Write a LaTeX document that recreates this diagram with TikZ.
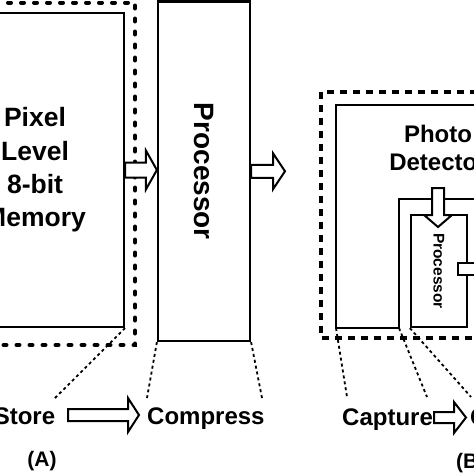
\documentclass[tikz,border=0pt]{standalone}
\usepackage{fontspec}
\setmainfont{Liberation Sans}
\usepackage{graphicx}
\usetikzlibrary{calc}
% horizontal hollow block arrow: tail, tip, shaft half, head half, head length
\newcommand{\harr}[5]{%
  \draw[blockarrow] let \p1=#1, \p2=#2 in
    (\x1,\y1+#3) -- (\x2-#5,\y1+#3) -- (\x2-#5,\y1+#4) -- (\x2,\y1) --
    (\x2-#5,\y1-#4) -- (\x2-#5,\y1-#3) -- (\x1,\y1-#3) -- cycle;}
% downward hollow block arrow
\newcommand{\varr}[5]{%
  \draw[blockarrow] let \p1=#1, \p2=#2 in
    (\x1-#3,\y1) -- (\x1-#3,\y2+#5) -- (\x1-#4,\y2+#5) -- (\x1,\y2) --
    (\x1+#4,\y2+#5) -- (\x1+#3,\y2+#5) -- (\x1+#3,\y1) -- cycle;}
\begin{document}
\begin{tikzpicture}[x=1pt,y=-1pt,
  solidbox/.style={draw, line width=2.2pt, inner sep=0pt},
  solidline/.style={draw, line width=2.2pt},
  dashA/.style={draw, line width=4pt, dash pattern=on 3pt off 10pt, line cap=round},
  dashB/.style={draw, line width=3.6pt, dash pattern=on 7pt off 6pt},
  proj/.style={draw, line width=1.8pt, dash pattern=on 3pt off 3pt},
  blockarrow/.style={draw, fill=white, line width=2pt, line join=miter},
  lbl/.style={font=\fontsize{24}{28}\selectfont\bfseries, inner sep=0pt},
  lblab/.style={font=\fontsize{21}{25}\selectfont\bfseries, inner sep=0pt}]
\useasboundingbox (0,0) rectangle (474,474);
\clip (0,0) rectangle (474,474);
\fill[white] (0,0) rectangle (474,474);

% ---------- (A) ----------
\draw[dashA] (-70,2.5) rectangle (135,345);
\node[solidbox, minimum width=178, minimum height=314, align=center,
      font=\fontsize{26.5}{33.3}\selectfont\bfseries] (mem) at (35,170)
      {Pixel\\Level\\8-bit\\Memory};
\node[solidbox, minimum width=92, minimum height=339.5] (procA) at (204,171.25)
      {\rotatebox{-90}{\fontsize{28}{32}\selectfont\bfseries Processor}};

\coordinate (aout) at (285,171.25);
\harr{(mem.east)}{(procA.west)}{7.5pt}{19.5pt}{11pt}
\harr{(procA.east)}{(aout)}{6.5pt}{18pt}{12pt}

\node[lbl, anchor=base] (store) at (24.5,424) {Store};
\node[lbl, anchor=base west] (compress) at (147,424) {Compress};
\coordinate (s1) at (55,398);
\coordinate (c1) at (147,398);
\coordinate (c2) at (262,398);
\draw[proj] (mem.south east) -- (s1);
\draw[proj] (procA.south west) -- (c1);
\draw[proj] (procA.south east) -- (c2);
\coordinate (st1) at (68,415);
\coordinate (st2) at (139,415);
\harr{(st1)}{(st2)}{6pt}{17pt}{11pt}
\node[lblab, anchor=base] (labA) at (42,466) {(A)};

% ---------- (B) ----------
\draw[dashB] (321,92) rectangle (530,338);
\draw[solidline] (520,105) -- (336,105) -- (336,328) -- (399,328) -- (399,199)
      -- (478,199) -- (478,328) -- (520,328);
\node[lbl, align=center] (pd) at (438,147.5) {Photo\\Detector};
\node[solidbox, fill=white, minimum width=56, minimum height=112] (procB) at (439,271)
      {\rotatebox{-90}{\fontsize{15.5}{18}\selectfont\bfseries Processor}};
\node[solidbox, fill=white, minimum width=32, minimum height=12] (outB) at (474,269) {};
\coordinate (dtail) at (438,188);
\coordinate (dtip) at (438,227);
\varr{(dtail)}{(dtip)}{6pt}{14pt}{12pt}

\coordinate (pdA) at (336,328);
\coordinate (pdB) at (399,328);
\coordinate (q1) at (347,397);
\coordinate (q2) at (427,397);
\coordinate (q3) at (471,397);
\draw[proj] (pdA) -- (q1);
\draw[proj] (pdB) -- (q2);
\draw[proj] (procB.south west) -- (q3);

\node[lbl, anchor=base west] (capture) at (342,425) {Capture};
\node[lbl, anchor=base west] (compressB) at (470,425) {Compress};
\coordinate (cp1) at (434,417.5);
\coordinate (cp2) at (466,417.5);
\harr{(cp1)}{(cp2)}{5.5pt}{15.5pt}{12pt}
\node[lblab, anchor=base west] (labB) at (456,468) {(B)};
\end{tikzpicture}
\end{document}
